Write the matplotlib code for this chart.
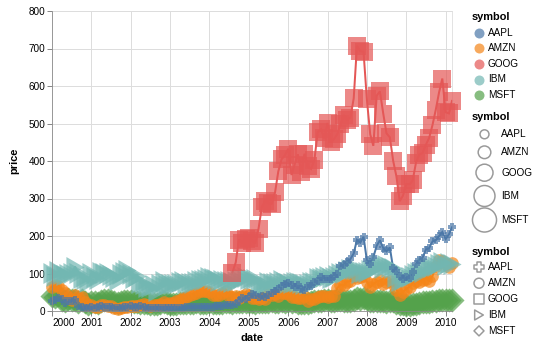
import numpy as np
import pandas as pd
import matplotlib
matplotlib.use("Agg")
import matplotlib.pyplot as plt
import matplotlib.dates as mdates
from matplotlib.path import Path

plt.rcParams['font.family'] = ['Liberation Sans', 'DejaVu Sans']

# ---------------- data (monthly closing prices) ----------------
symbols = ["AAPL", "AMZN", "GOOG", "IBM", "MSFT"]
start_month = {"AAPL": "2000-01-01", "AMZN": "2000-01-01", "GOOG": "2004-08-01",
               "IBM": "2000-01-01", "MSFT": "2000-01-01"}

aapl = [25.94, 28.66, 33.95, 31.01, 21, 26.19, 25.41, 30.47, 12.88, 9.78, 8.25, 7.44,
        10.81, 9.12, 11.03, 12.74, 9.98, 11.62, 9.4, 9.27, 7.76, 8.78, 10.65, 10.95,
        12.36, 10.85, 11.84, 12.14, 11.65, 8.86, 7.63, 7.38, 7.25, 8.03, 7.75, 7.16,
        7.18, 7.51, 7.07, 7.11, 8.98, 9.53, 10.54, 11.31, 10.36, 11.44, 10.45, 10.69,
        11.28, 11.96, 13.52, 12.89, 14.03, 16.27, 16.17, 17.25, 19.38, 26.2, 33.53, 32.2,
        38.45, 44.86, 41.67, 36.06, 39.76, 36.81, 42.65, 46.89, 53.61, 57.59, 67.82, 71.89,
        75.51, 68.49, 62.72, 70.39, 59.77, 57.27, 67.96, 67.85, 76.98, 81.08, 91.66, 84.84,
        85.73, 84.61, 92.91, 99.8, 121.19, 122.04, 131.76, 138.48, 153.47, 189.95, 182.22, 198.08,
        135.36, 125.02, 143.5, 173.95, 188.75, 167.44, 158.95, 169.53, 113.66, 107.59, 92.67, 85.35,
        90.13, 89.31, 105.12, 125.83, 135.81, 142.43, 163.39, 168.21, 185.35, 188.5, 199.91, 210.73,
        192.06, 204.62, 223.02]
amzn = [64.56, 68.87, 67, 55.19, 48.31, 36.31, 30.12, 41.5, 38.44, 36.62, 24.69, 15.56,
        17.31, 10.19, 10.23, 15.78, 16.69, 14.15, 12.49, 8.94, 5.97, 6.98, 11.32, 10.82,
        14.19, 14.1, 14.3, 16.69, 18.23, 16.25, 14.45, 14.94, 15.93, 19.36, 23.35, 18.89,
        21.85, 22.01, 26.03, 28.69, 35.89, 36.32, 41.64, 46.32, 48.43, 54.43, 53.97, 52.62,
        50.4, 43.01, 43.28, 43.6, 48.5, 54.4, 38.92, 38.14, 40.86, 34.13, 39.68, 44.29,
        43.22, 35.18, 34.27, 32.36, 35.51, 33.09, 45.15, 42.7, 45.3, 39.86, 48.46, 47.15,
        44.82, 37.44, 36.53, 35.21, 34.61, 38.68, 26.89, 30.83, 32.12, 38.09, 40.34, 39.46,
        37.67, 39.14, 39.79, 61.33, 69.14, 68.41, 78.54, 79.91, 93.15, 89.15, 90.56, 92.64,
        77.7, 64.47, 71.3, 78.63, 81.62, 73.33, 76.34, 80.81, 72.76, 57.24, 42.7, 51.28,
        58.82, 64.79, 73.44, 80.52, 77.99, 83.66, 85.76, 81.19, 93.36, 118.81, 135.91, 134.52,
        125.41, 118.4, 128.82]
goog = [102.37, 129.6, 190.64, 181.98, 192.79,
        195.62, 187.99, 180.51, 220, 277.27, 294.15, 287.76, 286, 316.46, 372.14, 404.91, 414.86,
        432.66, 362.62, 390, 417.94, 371.82, 419.33, 386.6, 378.53, 401.9, 476.39, 484.81, 460.48,
        501.5, 449.45, 458.16, 471.38, 497.91, 522.7, 510, 515.25, 567.27, 707, 693, 691.48,
        564.3, 471.18, 440.47, 574.29, 585.8, 526.42, 473.75, 463.29, 400.52, 359.36, 292.96, 307.65,
        338.53, 337.99, 348.06, 395.97, 417.23, 421.59, 443.05, 461.67, 495.85, 536.12, 583, 619.98,
        529.94, 526.8, 560.19]
ibm = [100.52, 92.11, 106.11, 99.95, 96.31, 98.33, 100.74, 118.62, 101.19, 88.5, 84.12, 76.47,
       100.76, 89.98, 86.63, 103.7, 100.82, 102.35, 94.87, 90.25, 82.82, 97.58, 104.5, 109.36,
       97.54, 88.82, 94.15, 75.82, 72.97, 65.31, 63.86, 68.52, 53.01, 71.76, 79.16, 70.58,
       71.22, 71.13, 71.57, 77.47, 80.48, 75.42, 74.28, 75.12, 80.91, 81.96, 83.08, 85.05,
       91.06, 88.7, 84.41, 81.04, 81.59, 81.19, 80.19, 78.17, 79.13, 82.84, 87.15, 91.16,
       86.39, 85.78, 84.66, 70.77, 70.18, 68.93, 77.53, 75.07, 74.7, 76.25, 82.98, 76.73,
       75.89, 75.09, 77.17, 77.05, 75.04, 72.15, 72.7, 76.35, 77.26, 87.06, 86.95, 91.9,
       93.79, 88.18, 89.44, 96.98, 101.54, 100.25, 105.4, 111.54, 112.6, 111, 100.9, 103.7,
       102.75, 109.64, 110.87, 116.23, 125.14, 114.6, 123.74, 118.16, 113.53, 90.24, 79.65, 82.15,
       89.46, 90.32, 95.09, 101.29, 104.85, 103.01, 116.34, 117, 118.55, 119.54, 125.79, 130.32,
       121.85, 127.16, 125.55]
msft = [39.81, 36.35, 43.22, 28.37, 25.45, 32.54, 28.4, 28.4, 24.53, 28.02, 23.34, 17.65,
        24.84, 24, 22.25, 27.56, 28.14, 29.7, 26.93, 23.21, 20.82, 23.65, 26.12, 26.95,
        25.92, 23.73, 24.53, 21.26, 20.71, 22.25, 19.52, 19.97, 17.79, 21.75, 23.46, 21.03,
        19.31, 19.34, 19.76, 20.87, 20.09, 20.93, 21.56, 21.65, 22.69, 21.45, 21.1, 22.46,
        22.69, 21.77, 20.46, 21.45, 21.53, 23.44, 23.38, 22.47, 22.76, 23.02, 24.6, 24.52,
        24.11, 23.15, 22.24, 23.28, 23.82, 22.93, 23.64, 25.35, 23.83, 23.8, 25.71, 24.29,
        26.14, 25.04, 25.36, 22.5, 21.19, 21.8, 22.51, 24.13, 25.68, 26.96, 27.66, 28.13,
        29.07, 26.63, 26.35, 28.3, 29.11, 27.95, 27.5, 27.34, 28.04, 35.03, 32.09, 34,
        31.13, 26.07, 27.21, 27.34, 27.25, 26.47, 24.75, 26.36, 25.78, 21.57, 19.66, 18.91,
        16.63, 15.81, 17.99, 19.84, 20.59, 23.42, 23.18, 24.43, 25.49, 27.48, 29.27, 30.34,
        28.05, 28.67, 28.8]
prices = {"AAPL": aapl, "AMZN": amzn, "GOOG": goog, "IBM": ibm, "MSFT": msft}
draw_order = ["MSFT", "AMZN", "IBM", "GOOG", "AAPL"]   # order in the source data

y_ticks = [0, 100, 200, 300, 400, 500, 600, 700, 800]
x_tick_years = list(range(2000, 2011))

# ---------------- encodings ----------------
colors = {"AAPL": "#4c78a8", "AMZN": "#f58518", "GOOG": "#e45756",
          "IBM": "#72b7b2", "MSFT": "#54a24b"}
sizes = {"AAPL": 80, "AMZN": 160, "GOOG": 290, "IBM": 440, "MSFT": 580}

def mk(verts):
    verts = list(verts) + [verts[0]]
    codes = [Path.MOVETO] + [Path.LINETO] * (len(verts) - 2) + [Path.CLOSEPOLY]
    return Path(verts, codes)

_s = 0.4
cross = mk([(-1, -_s), (-1, _s), (-_s, _s), (-_s, 1), (_s, 1), (_s, _s), (1, _s),
            (1, -_s), (_s, -_s), (_s, -1), (-_s, -1), (-_s, -_s)])
_h = np.sqrt(3) / 2
tri_right = mk([(_h, 0), (-_h, 1), (-_h, -1)])
diamond = mk([(-1, 0), (0, 1), (1, 0), (0, -1)])
shapes = {"AAPL": cross, "AMZN": "o", "GOOG": "s", "IBM": tri_right, "MSFT": diamond}

# ---------------- figure ----------------
W, H = 538, 351
fig = plt.figure(figsize=(W / 72, H / 72), dpi=72)
L, R, T, B = 52, 452, 11, 311
ax = fig.add_axes([L / W, 1 - B / H, (R - L) / W, (B - T) / H])

for sym in draw_order:
    d = pd.date_range(start_month[sym], periods=len(prices[sym]), freq="MS")
    ax.plot(d, prices[sym], color=colors[sym], lw=2, zorder=2, clip_on=False,
            solid_joinstyle="miter")
for sym in draw_order:
    d = pd.date_range(start_month[sym], periods=len(prices[sym]), freq="MS")
    ax.scatter(d, prices[sym], s=sizes[sym], marker=shapes[sym], color=colors[sym],
               alpha=0.7, linewidths=0, zorder=3, clip_on=False)

ax.set_xlim(pd.Timestamp("2000-01-01"), pd.Timestamp("2010-03-01"))
ax.set_ylim(0, 800)
ax.set_yticks(y_ticks)
ax.set_xticks([pd.Timestamp(f"{y}-01-01") for y in x_tick_years])
ax.xaxis.set_major_formatter(mdates.DateFormatter("%Y"))
ax.grid(True, color="#dddddd", lw=1)
ax.set_axisbelow(True)
for sp in ["top", "right"]:
    ax.spines[sp].set_color("#dddddd")
for sp in ["left", "bottom"]:
    ax.spines[sp].set_color("#888888")
    ax.spines[sp].set_zorder(4)
ax.tick_params(axis="both", length=5, width=1, color="#888888", labelsize=10,
               labelcolor="#000000")
ax.tick_params(axis="y", pad=1.5)
ax.tick_params(axis="x", pad=2)
ax.get_xticklabels()[0].set_horizontalalignment("left")

fig.text(14 / W, 1 - ((T + B) / 2) / H, "price", rotation=90, fontsize=11,
         fontweight="bold", ha="center", va="center")
fig.text(((L + R) / 2) / W, 1 - 338 / H, "date", fontsize=11, fontweight="bold",
         ha="center", va="center")

# ---------------- legends ----------------
lax = fig.add_axes([0, 0, 1, 1], zorder=10)
lax.set_xlim(0, W)
lax.set_ylim(H, 0)
lax.axis("off")
lax.patch.set_alpha(0)

title_x = 472
# colour legend
lax.text(title_x, 16.5, "symbol", fontsize=11, fontweight="bold", va="center", ha="left")
for i, sym in enumerate(symbols):
    y = 32.7 + 15.6 * i
    lax.scatter([478.5], [y], s=100, marker="o", color=colors[sym], alpha=0.7,
                linewidths=0)
    lax.text(488, y, sym, fontsize=10, va="center", ha="left")

# size legend
lax.text(title_x, 117, "symbol", fontsize=11, fontweight="bold", va="center", ha="left")
size_rows = [134.3, 152.3, 172.7, 196, 220]
for sym, y in zip(symbols, size_rows):
    lax.scatter([484.5], [y], s=sizes[sym], marker="o", facecolors="none",
                edgecolors="#999999", linewidths=1.5)
    lax.text(501, y, sym, fontsize=10, va="center", ha="left")

# shape legend
lax.text(title_x, 252, "symbol", fontsize=11, fontweight="bold", va="center", ha="left")
for i, sym in enumerate(symbols):
    y = 267.3 + 15.9 * i
    lax.scatter([479], [y], s=100, marker=shapes[sym], facecolors="none",
                edgecolors="#999999", linewidths=1.5)
    lax.text(488, y, sym, fontsize=10, va="center", ha="left")

fig.savefig("out.png", dpi=72)
